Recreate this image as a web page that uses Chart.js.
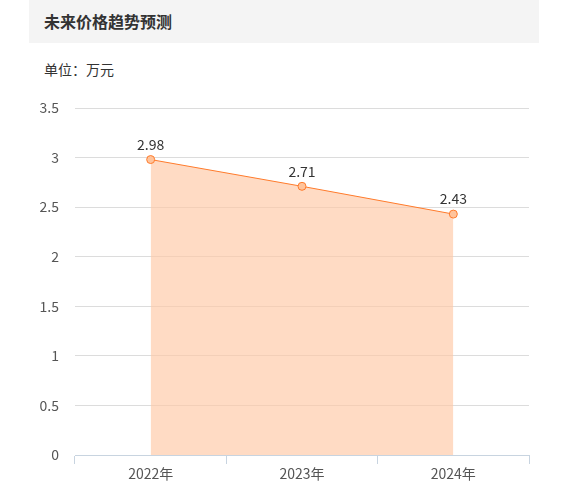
<!DOCTYPE html>
<html>
<head>
<meta charset="utf-8">
<script src="https://cdn.jsdelivr.net/npm/chart.js@4"></script>
<style>
  body { margin: 0; width: 565px; height: 504px; background: #fff; position: relative; overflow: hidden;
         font-family: "Noto Sans CJK SC", "Noto Sans", sans-serif; }
  .head { position: absolute; left: 29px; top: 0; width: 510px; height: 43px; background: #f4f4f4; }
  .head span { position: absolute; left: 15px; top: 9px; font-size: 16px; font-weight: bold; color: #333; }
  .unit { position: absolute; left: 44px; top: 59px; font-size: 14px; color: #333; }
  #wrap { position: absolute; left: 0; top: 0; width: 565px; height: 504px; }
</style>
</head>
<body>
<div class="head"><span>未来价格趋势预测</span></div>
<div class="unit">单位：万元</div>
<div id="wrap"><canvas id="grafico"></canvas></div>
<script>
// dados do gráfico
const anos = ['2022年', '2023年', '2024年'];
const precos = [2.98, 2.71, 2.43];
const yTicks = [0, 0.5, 1, 1.5, 2, 2.5, 3, 3.5];

const fonte = '"Noto Sans CJK SC", "Noto Sans", sans-serif';

// plugin simples para escrever os valores acima dos pontos
const rotulos = {
  id: 'rotulos',
  afterDatasetsDraw(chart) {
    const ctx = chart.ctx;
    const meta = chart.getDatasetMeta(0);
    ctx.save();
    ctx.font = '14px ' + fonte;
    ctx.fillStyle = '#333';
    ctx.textAlign = 'center';
    ctx.textBaseline = 'bottom';
    meta.data.forEach((pt, i) => {
      ctx.fillText(precos[i].toString(), pt.x, pt.y - 8);
    });
    ctx.restore();
  }
};

new Chart(document.getElementById('grafico'), {
  type: 'line',
  data: {
    labels: anos,
    datasets: [{
      data: precos,
      borderColor: '#ff7b2c',
      borderWidth: 1,
      backgroundColor: 'rgba(255, 200, 165, 0.65)',
      fill: 'origin',
      tension: 0,
      pointRadius: 4,
      pointHoverRadius: 4,
      pointBackgroundColor: '#ffc49c',
      pointBorderColor: '#ff7b2c',
      pointBorderWidth: 1
    }]
  },
  options: {
    responsive: true,
    maintainAspectRatio: false,
    animation: false,
    layout: { padding: { top: 108, right: 36, left: 0, bottom: 0 } },
    plugins: { legend: { display: false }, tooltip: { enabled: false } },
    scales: {
      x: {
        offset: true,
        grid: { offset: true, drawOnChartArea: false, drawTicks: true, tickLength: 9, color: '#c8d4e0' },
        border: { color: '#c8d4e0' },
        ticks: { color: '#555', font: { family: fonte, size: 14 }, padding: 1 },
        afterFit: (s) => { s.height = 49; }
      },
      y: {
        min: 0,
        max: 3.5,
        afterBuildTicks: (s) => { s.ticks = yTicks.map(v => ({ value: v })); },
        grid: { color: '#dcdcdc', drawTicks: false },
        border: { display: false },
        ticks: { color: '#555', font: { family: fonte, size: 14 }, padding: 16, callback: (v) => String(v) },
        afterFit: (s) => { s.width = 75; }
      }
    }
  },
  plugins: [rotulos]
});
</script>
</body>
</html>
